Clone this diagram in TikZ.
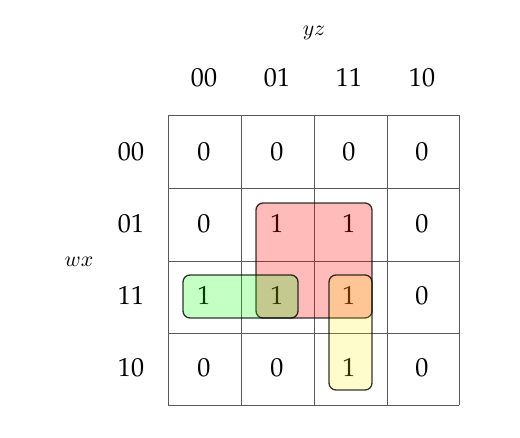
\documentclass[tikz,border=0pt]{standalone}
\usepackage[T1]{fontenc}
\usepackage{palatino}
\begin{document}
\begin{tikzpicture}[x=0.46pt,y=-0.46pt,
  gridline/.style={draw=black!65,line width=0.4pt},
  lbl/.style={inner sep=0pt,font=\large,text height=1.4ex,text depth=0pt},
  val/.style={inner sep=0pt,font=\large,text height=1.4ex,text depth=0pt},
  grp/.style={draw=black,draw opacity=0.8,line width=0.6pt,rounded corners=3.2pt}]
\useasboundingbox (0,0) rectangle (520,438);
% grid
\foreach \i/\x in {0/168,1/241,2/314,3/387,4/459}{
  \draw[gridline] (\x,115) -- (\x,405);}
\foreach \j/\y in {0/115,1/188,2/261,3/333,4/405}{
  \draw[gridline] (168,\y) -- (459,\y);}
% headers
\node (yz) at (314,33) {$yz$};
\node (wx) at (79,262) {$wx$};
\node[lbl] (c00) at (204,79) {00};
\node[lbl] (c01) at (277,79) {01};
\node[lbl] (c11) at (349,79) {11};
\node[lbl] (c10) at (422,79) {10};
\node[lbl] (r00) at (131,153) {00};
\node[lbl] (r01) at (131,225) {01};
\node[lbl] (r11) at (131,297) {11};
\node[lbl] (r10) at (131,369) {10};
% values
\node[val] (v11) at (204,153) {0};
\node[val] (v12) at (277,153) {0};
\node[val] (v13) at (349,153) {0};
\node[val] (v14) at (422,153) {0};
\node[val] (v21) at (204,225) {0};
\node[val] (v22) at (277,225) {1};
\node[val] (v23) at (349,225) {1};
\node[val] (v24) at (422,225) {0};
\node[val] (v31) at (204,297) {1};
\node[val] (v32) at (277,297) {1};
\node[val] (v33) at (349,297) {1};
\node[val] (v34) at (422,297) {0};
\node[val] (v41) at (204,369) {0};
\node[val] (v42) at (277,369) {0};
\node[val] (v43) at (349,369) {1};
\node[val] (v44) at (422,369) {0};
% groups
\draw[grp,fill=red,fill opacity=0.27] (256,203) rectangle (372,318);
\draw[grp,fill=green,fill opacity=0.23] (183,275) rectangle (298,318);
\draw[grp,fill=yellow,fill opacity=0.2] (329,275) rectangle (372,390);
\end{tikzpicture}
\end{document}
